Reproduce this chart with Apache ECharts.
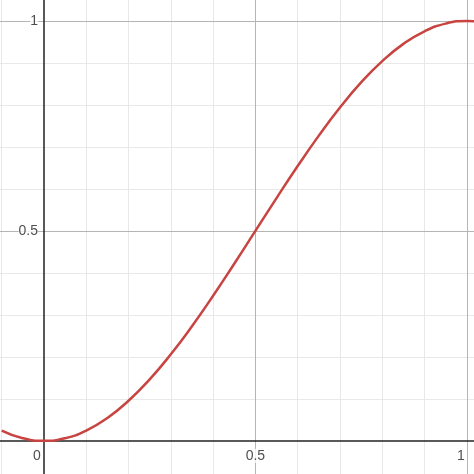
<!DOCTYPE html>
<html><head><meta charset="utf-8">
<script src="https://cdn.jsdelivr.net/npm/echarts@6/dist/echarts.min.js"></script>
<style>html,body{margin:0;padding:0;background:#fff}#c{width:474px;height:474px}</style>
</head><body><div id="c"></div>
<script>
const xs = [-0.1,-0.05,0,0.05,0.1,0.15,0.2,0.25,0.3,0.35,0.4,0.45,0.5,0.55,0.6,0.65,0.7,0.75,0.8,0.85,0.9,0.95,1,1.02];
const ys = [0.0245,0.0062,0,0.0062,0.0245,0.0545,0.0955,0.1464,0.2061,0.2730,0.3455,0.4218,0.5,0.5782,0.6545,0.7270,0.7939,0.8536,0.9045,0.9455,0.9755,0.9938,1,0.999];
const minorX = [-0.1,0.1,0.2,0.3,0.4,0.6,0.7,0.8,0.9];
const minorY = [0.1,0.2,0.3,0.4,0.6,0.7,0.8,0.9];
const majorX = [0.5,1];
const majorY = [0.5,1];
const xTickLabels = [[0.5,'0.5',0],[1,'1',-6]];
const yTickLabels = [[0.5,'0.5'],[1,'1']];
const ch = echarts.init(document.getElementById('c'));
const lineStyle = (c,w)=>({color:c,width:w,type:'solid'});
const ml = (arr,key,c,w)=>({silent:true,symbol:'none',label:{show:false},lineStyle:lineStyle(c,w),animation:false,
  data:arr.map(v=>({[key]:v}))});
const font = {fontSize:14,color:'#222',backgroundColor:'#fff',fontFamily:'Arial, Liberation Sans'};
ch.setOption({
  animation:false,
  grid:{left:0,right:0,top:0,bottom:0},
  xAxis:{type:'value',min:-0.104,max:1.017,show:false},
  yAxis:{type:'value',min:-0.079,max:1.05,show:false},
  series:[
    {type:'line',z:1,data:[],markLine:ml(minorX,'xAxis','#e8e8e8',1)},
    {type:'line',z:1,data:[],markLine:ml(minorY,'yAxis','#e8e8e8',1)},
    {type:'line',z:2,data:[],markLine:ml(majorX,'xAxis','#b5b5b5',1)},
    {type:'line',z:2,data:[],markLine:ml(majorY,'yAxis','#b5b5b5',1)},
    {type:'line',z:3,data:[],markLine:ml([0],'xAxis','#222',1.5)},
    {type:'line',z:3,data:[],markLine:ml([0],'yAxis','#222',1.5)},
    {type:'line',z:10,smooth:true,symbol:'none',data:xs.map((x,i)=>[x,ys[i]]),
     lineStyle:{color:'#c74440',width:2.5}},
    {type:'scatter',z:5,symbolSize:0,data:xTickLabels.map(d=>({value:[d[0],0],name:d[1],label:{offset:[d[2],0]}})),
     label:Object.assign({show:true,position:'bottom',distance:8,formatter:p=>p.name},font)},
    {type:'scatter',z:5,symbolSize:0,data:yTickLabels.map(d=>({value:[0,d[0]],name:d[1]})),
     label:Object.assign({show:true,position:'left',distance:6,formatter:p=>p.name},font)},
    {type:'scatter',z:5,symbolSize:0,data:[{value:[0,0],name:'0'}],
     label:Object.assign({show:true,position:'bottom',offset:[-7,0],distance:8,formatter:p=>p.name},font)}
  ]
});
</script></body></html>
